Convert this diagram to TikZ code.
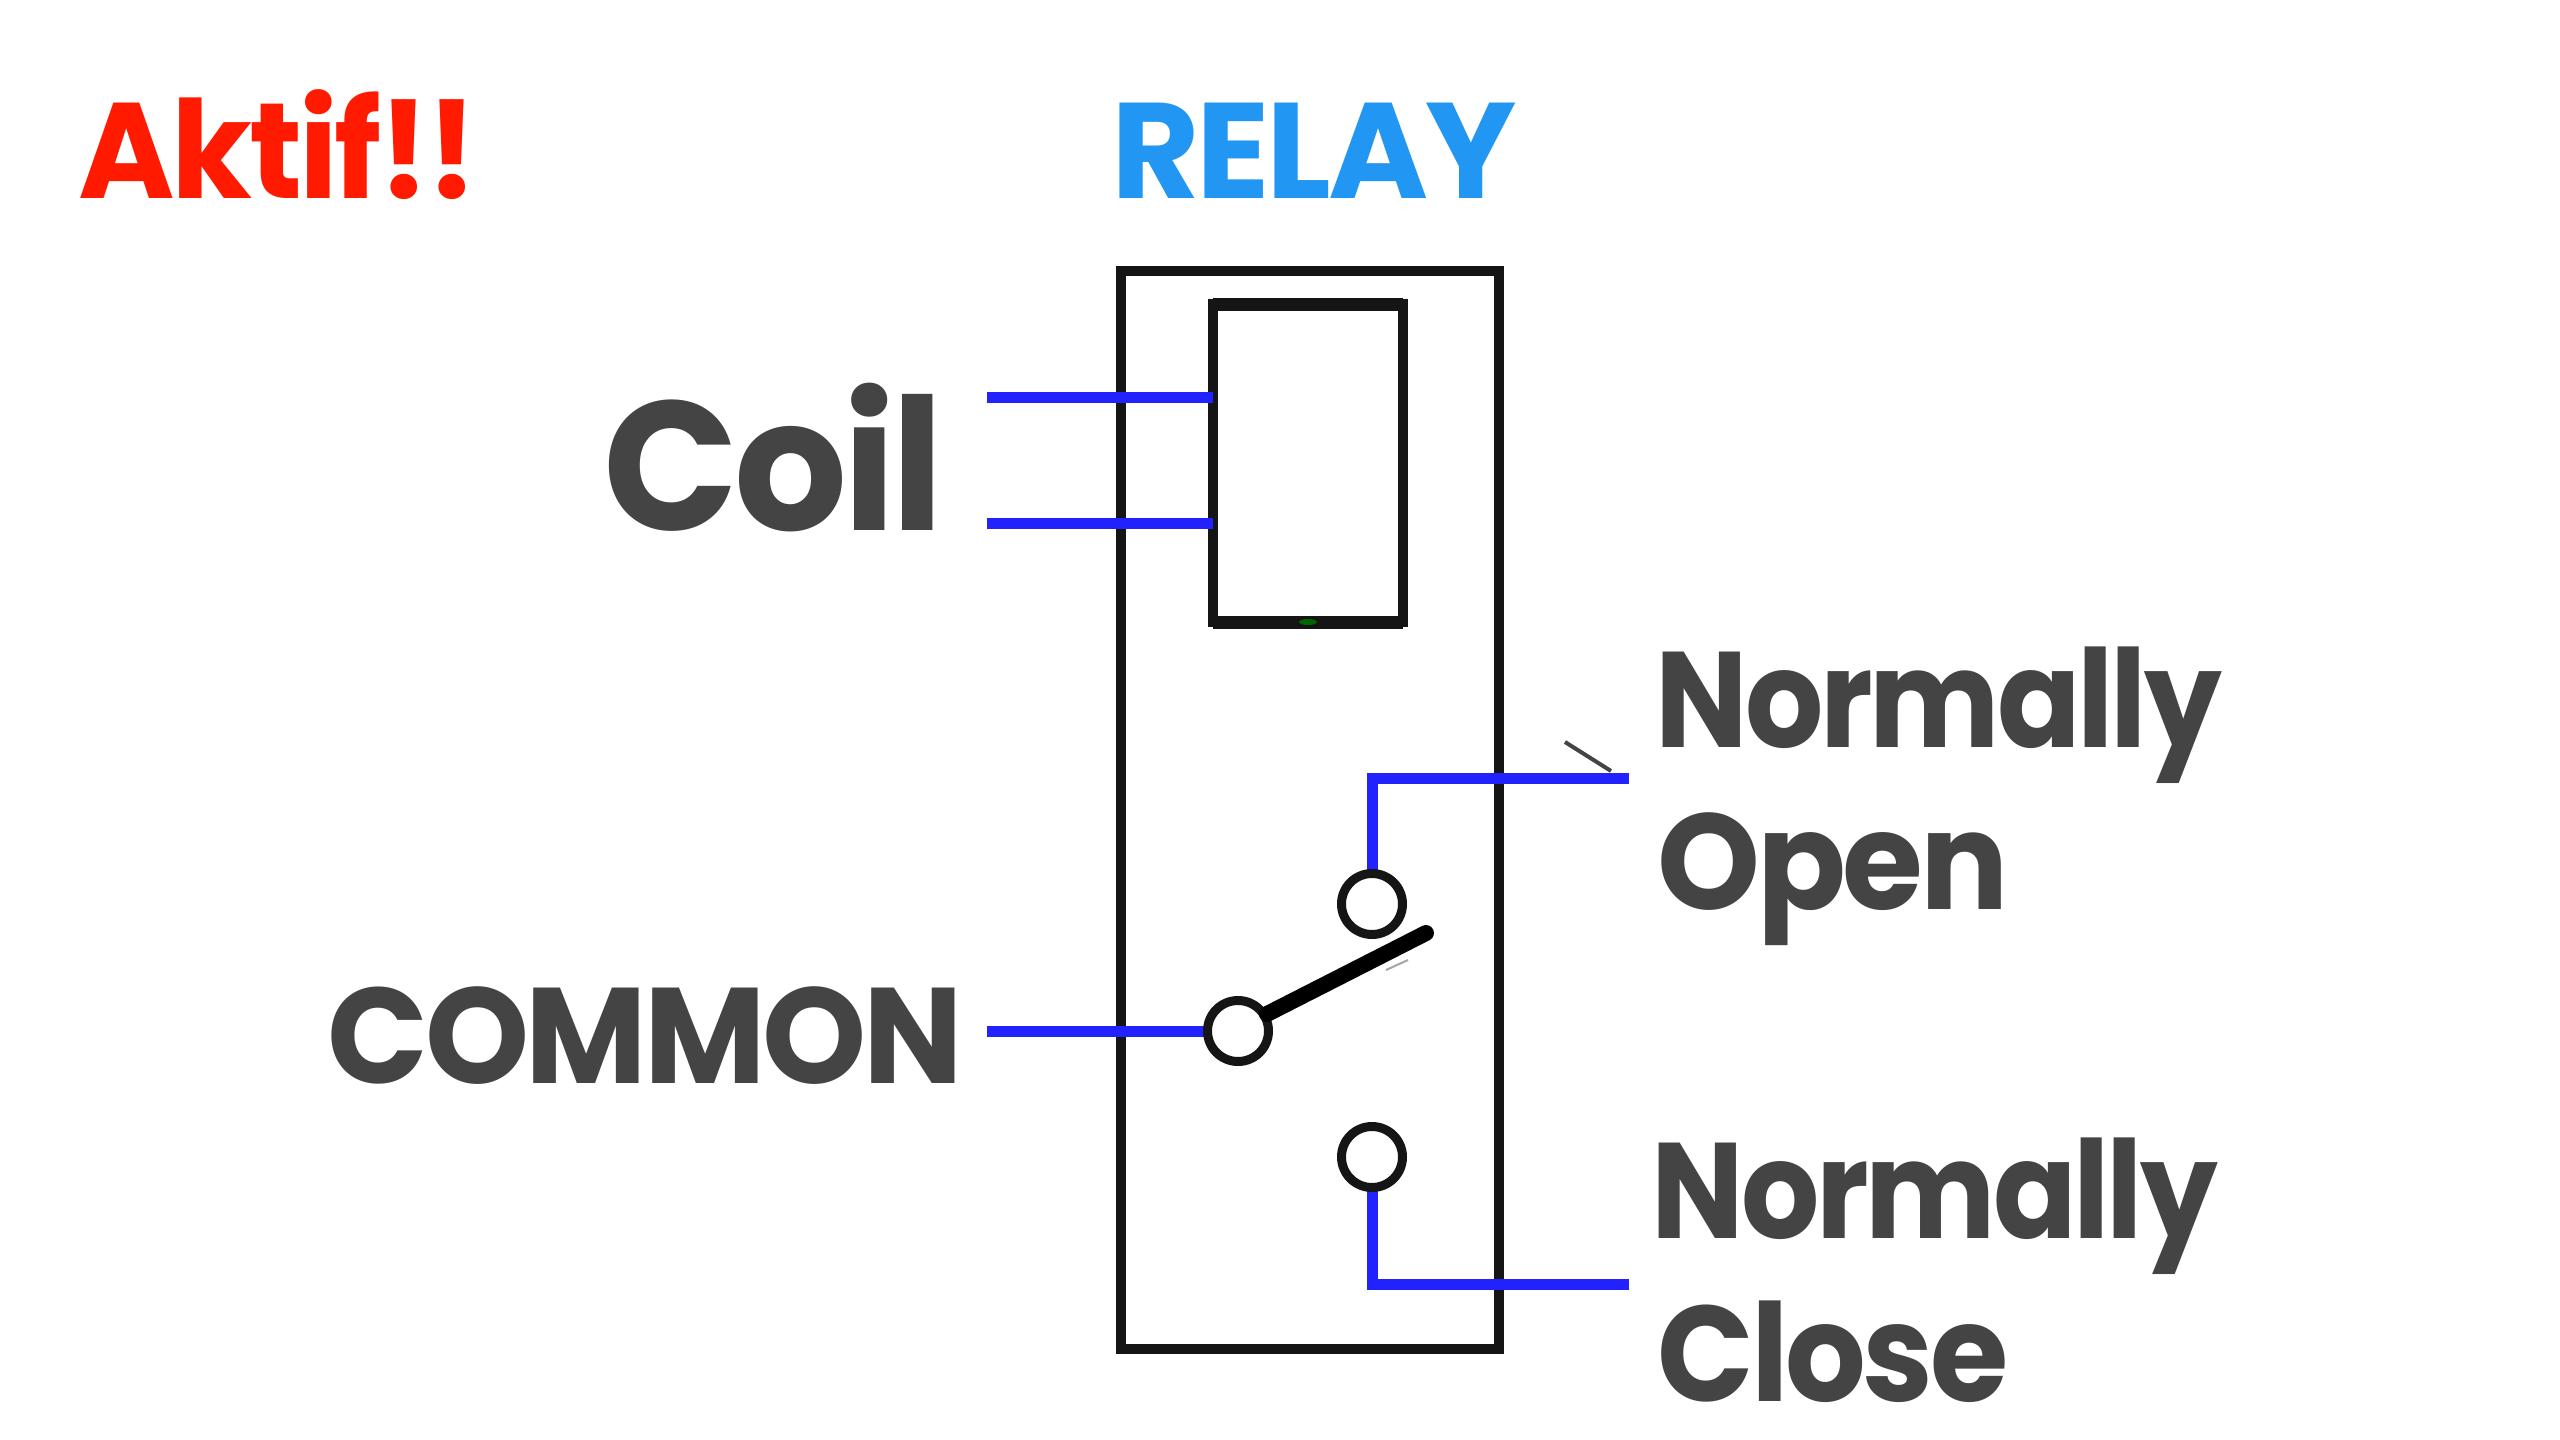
\documentclass[tikz,border=0pt]{standalone}
\usepackage{fontspec}
\setmainfont{Poppins}
\definecolor{txt}{HTML}{444444}
\definecolor{wire}{HTML}{2222FF}
\definecolor{frame}{HTML}{151515}
\definecolor{relayblue}{HTML}{2196F3}
\definecolor{alarm}{HTML}{FF1A00}
\newcommand{\tight}[2]{\scalebox{#1}[1]{\addfontfeature{LetterSpace=-2.5}#2}}
\tikzset{
  wirestyle/.style={draw=wire,line width=5.5pt,line join=miter},
  boxstyle/.style={draw=frame,line width=5pt,inner sep=0pt,outer sep=0pt,fill=none},
  term/.style={circle,draw=frame,line width=4.5pt,fill=white,minimum size=30.5pt,inner sep=0pt,outer sep=0pt},
  label/.style={text=txt,font=\fontsize{68}{68}\selectfont\bfseries,inner sep=0pt,anchor=base west},
  title/.style={font=\fontsize{68}{68}\selectfont\bfseries,inner sep=0pt,anchor=base west}
}
\begin{document}
\begin{tikzpicture}[x=0.5pt,y=-0.5pt]
\useasboundingbox (0,0) rectangle (2560,1440);
\fill[white] (0,0) rectangle (2560,1440);
% free ends
\coordinate (c1) at (987,397);
\coordinate (c2) at (987,523);
\coordinate (cm) at (987,1031);
\coordinate (no) at (1629,778);
\coordinate (nc) at (1629,1284);
\coordinate (cornerNO) at (1372,778);
\coordinate (cornerNC) at (1372,1284);
\coordinate (leverA) at (1267,1014);
\coordinate (leverB) at (1426,933);
\coordinate (strayA) at (1565,742);
\coordinate (strayB) at (1611,771);
\coordinate (sliverA) at (1386,970);
\coordinate (sliverB) at (1408,960);
% boxes
\node[boxstyle,minimum width=189pt,minimum height=539pt] (relay) at (1310,810) {};
\node[boxstyle,minimum width=95pt,minimum height=159pt] (coil) at (1308,463) {};
% wires
\path (c1 -| coil.west) coordinate (c1e);
\path (c2 -| coil.west) coordinate (c2e);
\draw[wirestyle] (c1) -- (c1e);
\draw[wirestyle] (c2) -- (c2e);
\node[term,draw=none,fill=none] (comT) at (1238,1031) {};
\node[term,draw=none,fill=none] (noT) at (1372,904) {};
\node[term,draw=none,fill=none] (ncT) at (1372,1157) {};
\draw[wirestyle] (cm) -- (comT);
\draw[wirestyle] (noT) -- (cornerNO) -- (no);
\draw[wirestyle] (ncT) -- (cornerNC) -- (nc);
% terminals
\node[term] at (comT) {};
\node[term] at (noT) {};
\node[term] at (ncT) {};
% top and bottom of the coil are heavier
\draw[frame,line width=6.5pt,line cap=square] (coil.north west) -- (coil.north east);
\draw[frame,line width=6.5pt,line cap=square] (coil.south west) -- (coil.south east);
\fill[black!60!green] (1308,622) ellipse (9 and 3);
% lever
\draw[black,line width=8pt,line cap=round] (leverA) -- (leverB);
\draw[black!35,line width=1pt] (sliverA) -- (sliverB);
\draw[txt,line width=2pt] (strayA) -- (strayB);
% text
\node[title,text=alarm] (aktif) at (78,198) {\tight{0.963}{Aktif!!}};
\node[title,text=relayblue] (rel) at (1111,198) {\tight{1}{RELAY}};
\node[label,font=\fontsize{92}{92}\selectfont\bfseries] (coilL) at (603,530) {\tight{0.965}{Coil}};
\node[label] (common) at (327,1083) {\tight{0.974}{COMMON}};
\node[label] (no1) at (1655,747) {\tight{0.905}{Normally}};
\node[label] (no2) at (1657,909) {\tight{0.963}{Open}};
\node[label] (nc1) at (1651,1238) {\tight{0.905}{Normally}};
\node[label] (nc2) at (1657,1401) {\tight{0.933}{Close}};
\end{tikzpicture}
\end{document}
